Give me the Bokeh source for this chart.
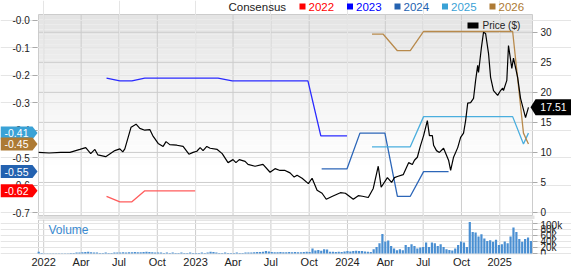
import numpy as np
import pandas as pd
from bokeh.plotting import figure
from bokeh.layouts import column
from bokeh.models import (Range1d, LinearAxis, FixedTicker, CustomJSTickFormatter,
                          PolyAnnotation, Label)
from bokeh.embed import file_html
from bokeh.resources import INLINE

FONT = "Liberation Sans"

# ---------------- data ----------------
price_dates = [
    "2021-12-20", "2022-01-14", "2022-02-11", "2022-03-05", "2022-03-29", "2022-04-12", "2022-04-24",
    "2022-05-04", "2022-05-11", "2022-05-30", "2022-06-21", "2022-07-03", "2022-07-10", "2022-07-15",
    "2022-07-30", "2022-08-11", "2022-08-20", "2022-09-01", "2022-09-13", "2022-09-20", "2022-10-03",
    "2022-10-15", "2022-10-22", "2022-10-31", "2022-11-17", "2022-12-02", "2022-12-16", "2022-12-26",
    "2023-01-04", "2023-01-12", "2023-01-19", "2023-01-28", "2023-02-05", "2023-02-22", "2023-03-06",
    "2023-03-20", "2023-04-01", "2023-04-08", "2023-04-16", "2023-04-30", "2023-05-07", "2023-05-24",
    "2023-06-12", "2023-06-29", "2023-07-11", "2023-07-23", "2023-08-04", "2023-08-16", "2023-08-26",
    "2023-09-02", "2023-09-14", "2023-09-29", "2023-10-08", "2023-10-20", "2023-11-01", "2023-11-11",
    "2023-11-26", "2023-12-15", "2023-12-27", "2024-01-15", "2024-01-27", "2024-02-06", "2024-02-20",
    "2024-03-03", "2024-03-15", "2024-03-22", "2024-04-06", "2024-04-16", "2024-04-23", "2024-04-30",
    "2024-05-14", "2024-05-27", "2024-06-05", "2024-06-10", "2024-06-17", "2024-06-24", "2024-07-02",
    "2024-07-11", "2024-07-16", "2024-07-23", "2024-07-26", "2024-08-02", "2024-08-09", "2024-08-19",
    "2024-08-31", "2024-09-05", "2024-09-12", "2024-09-22", "2024-09-29", "2024-10-06", "2024-10-11",
    "2024-10-16", "2024-10-23", "2024-10-30", "2024-11-04", "2024-11-09", "2024-11-11", "2024-11-18",
    "2024-11-23", "2024-11-28", "2024-12-05", "2024-12-10", "2024-12-17", "2024-12-27", "2025-01-03",
    "2025-01-08", "2025-01-10", "2025-01-18", "2025-01-22", "2025-01-30", "2025-02-03", "2025-02-13",
    "2025-02-20", "2025-03-04", "2025-03-11",
]
price_values = [
    10.0, 9.9, 10.0, 10.0, 10.5, 10.8, 9.8,
    10.5, 9.6, 9.3, 10.3, 10.6, 10.1, 10.6,
    14.2, 14.7, 14.0, 13.7, 13.8, 12.8, 11.5,
    11.0, 11.8, 11.3, 11.2, 11.0, 9.7, 10.0,
    10.2, 10.8, 10.3, 11.0, 10.7, 10.5, 9.8,
    8.3, 8.8, 8.3, 8.8, 8.5, 8.0, 7.7,
    8.0, 6.7, 7.3, 7.0, 7.0, 6.6, 5.9,
    6.2, 5.7, 4.8, 5.7, 3.7, 3.2, 2.2,
    2.7, 3.3, 3.2, 2.2, 2.8, 2.7, 2.5,
    4.0, 7.7, 4.2, 5.8, 5.0, 5.8, 6.0,
    6.3, 8.3, 8.0, 8.7, 9.2, 11.0, 12.8,
    15.3, 12.8, 12.8, 11.2, 10.3, 10.0, 10.7,
    8.7, 7.0, 9.2, 10.8, 12.5, 13.2, 15.3,
    18.2, 18.3, 19.0, 22.0, 24.5, 23.3, 27.5,
    30.0, 29.8, 26.5, 22.5, 20.3, 19.5, 20.3,
    20.7, 20.3, 22.0, 27.8, 24.0, 25.7, 22.5,
    19.0, 15.8, 17.51,
]

eps2022_dates = ["2022-06-01", "2022-07-03", "2022-08-01", "2022-09-01", "2022-12-31"]
eps2022_values = [-0.64, -0.66, -0.66, -0.62, -0.62]

eps2023_dates = ["2022-06-01", "2022-07-03", "2022-08-01", "2022-09-01", "2023-02-24",
                 "2023-03-30", "2023-09-28", "2023-10-29", "2023-12-31"]
eps2023_values = [-0.21, -0.22, -0.22, -0.21, -0.21, -0.22, -0.22, -0.42, -0.42]

eps2024_dates = ["2023-10-31", "2023-12-31", "2024-01-31", "2024-03-31", "2024-04-30",
                 "2024-05-31", "2024-07-02", "2024-08-31"]
eps2024_values = [-0.54, -0.54, -0.41, -0.41, -0.64, -0.64, -0.55, -0.55]

eps2025_dates = ["2024-02-29", "2024-05-31", "2024-07-02", "2025-02-01", "2025-02-27", "2025-03-11"]
eps2025_values = [-0.46, -0.46, -0.35, -0.35, -0.45, -0.41]

eps2026_dates = ["2024-02-29", "2024-03-27", "2024-04-30", "2024-05-31", "2024-07-02",
                 "2025-02-01", "2025-02-27", "2025-03-11"]
eps2026_values = [-0.05, -0.05, -0.11, -0.11, -0.04, -0.04, -0.41, -0.45]

volume_first_week = "2021-12-20"
volume_k = [
    6, 2, 1, 1, 1, 1, 1, 1, 1, 1, 1,
    2, 2, 3, 3,
    4, 5, 6, 4,
    3, 3, 2, 2, 3, 2, 2, 3, 3,
    3, 4, 3, 4, 4, 5, 4, 4, 5, 6, 5, 4, 3,
    3, 3, 2, 3, 2, 3, 2, 2, 3, 2, 2, 3, 2,
    2, 2, 3, 2, 3, 6, 5, 3, 2, 2, 3, 2, 2,
    2, 3, 2, 2, 3, 3, 3, 4, 5, 5, 6, 8, 7,
    5, 4, 4, 5, 4, 4, 5, 4, 5, 4, 4, 5, 6, 5,
    17, 10, 12, 9, 14, 13, 6, 6, 5, 6, 5, 7, 8, 7, 8, 9, 8, 8, 7, 6, 5, 14,
    22, 34, 65, 40, 43, 25, 17, 11, 14, 11, 28, 22, 31, 25, 17, 20, 22, 37, 22, 37,
    34, 25, 31, 22, 14, 12, 10, 17, 28, 40, 37, 22, 105, 72, 70, 57, 64, 50, 42, 44,
    39, 46, 28, 31, 40, 34, 57, 87, 72, 48, 39, 48, 53, 42,
]

consensus_years = ["2022", "2023", "2024", "2025", "2026"]
year_colors = ["#ff0000", "#0000ff", "#2462b0", "#3aa2d6", "#ad7a34"]
line_colors = ["#ff5c5c", "#2a2aff", "#2c66b8", "#4aaede", "#b88a4c"]
eps_dates = [eps2022_dates, eps2023_dates, eps2024_dates, eps2025_dates, eps2026_dates]
eps_values = [eps2022_values, eps2023_values, eps2024_values, eps2025_values, eps2026_values]
# order in which the value tags are stacked (bottom first)
tag_order = [3, 4, 2, 0]

left_ticks = [0.0, -0.1, -0.2, -0.3, -0.4, -0.5, -0.6, -0.7]
price_ticks = [0, 5, 10, 15, 20, 25, 30]
volume_ticks = [0, 20, 40, 60, 80, 100]

# ---------------- layout helpers (pixel geometry, page coordinates) ----------------
def ms(ts):
    return pd.Timestamp(ts).value / 1e6

W = 571
H1 = 219                       # main panel height; both frames span the full window width
L, R, T, B = 38, 532, 14, 215  # plot area of the main panel
VB = 254                       # bottom of the volume panel
X0 = pd.Timestamp("2021-12-19 12:00")
X1 = pd.Timestamp("2025-03-20 17:00")
MS_PER_PX = (ms(X1) - ms(X0)) / (R - L)
EPS_AT_T, EPS_PER_PX = 0.0218, 0.7317 / (B - T)
P_AT_T, P_PER_PX = 32.96, 33.46 / (B - T)
V_PER_PX = 1 / 0.3             # thousand shares per pixel, zero at y=253

def xpx(px):
    return ms(X0) + (px - L) * MS_PER_PX

def eps_at(py):
    return EPS_AT_T - (py - T) * EPS_PER_PX

def price_at(py):
    return P_AT_T - (py - T) * P_PER_PX

def price_px(price):
    return T + (P_AT_T - price) / P_PER_PX

def vol_at(py):
    return (253 - py) * V_PER_PX

qticks = [ms(t) for t in pd.date_range("2022-01-01", "2025-01-01", freq="QS")]
GRID = "#cccccc"
TICK = "#aaaaaa"
TXT = "#222222"

def style_axis(ax, size="10px"):
    ax.axis_line_color = None
    ax.major_tick_line_color = TICK
    ax.minor_tick_line_color = None
    ax.major_label_text_font = FONT
    ax.major_label_text_font_size = size
    ax.major_label_text_color = TXT

# ---------------- main panel ----------------
xr = Range1d(xpx(0), xpx(W))
p1 = figure(frame_width=W, frame_height=H1, x_range=xr,
            y_range=Range1d(eps_at(H1), eps_at(0)), x_axis_type="datetime",
            x_axis_location=None, y_axis_location=None, output_backend="svg",
            toolbar_location=None,
            min_border_left=0, min_border_right=0, min_border_top=0, min_border_bottom=0)
p1.extra_y_ranges = {"price": Range1d(price_at(H1), price_at(0))}
p1.outline_line_color = None
p1.background_fill_color = "white"

# soft vertical gradient background of the plot area
n = 40
edges = np.linspace(price_at(T), price_at(B), n + 1)
t = (np.arange(n) + 0.5) / n
shade = (228 + 27 * np.clip(t / 0.75, 0, 1) ** 0.9).astype(int)
bg_colors = ["#%02x%02x%02x" % (s, s, s) for s in shade]
p1.quad(left=ms(X0), right=ms(X1), top=edges[:-1], bottom=edges[1:], fill_color=bg_colors,
        line_color=None, y_range_name="price", level="image")
# separator band between the two panels
p1.quad(left=xpx(L - 1), right=xpx(R + 2), top=price_at(B), bottom=price_at(H1),
        fill_color="#e3e3e3", line_color=None, y_range_name="price", level="image")

# grid lines (quarters / price ticks) limited to the plot area
p1.segment(x0=qticks, x1=qticks, y0=price_at(T), y1=price_at(B), y_range_name="price",
           line_color=GRID, line_width=1, level="underlay")
p1.segment(x0=ms(X0), x1=ms(X1), y0=price_ticks, y1=price_ticks, y_range_name="price",
           line_color=GRID, line_width=1, level="underlay")
p1.quad(left=ms(X0), right=ms(X1), top=price_at(T), bottom=price_at(B), fill_color=None,
        line_color=GRID, line_width=1, y_range_name="price", level="underlay")

# axes at fixed locations (their side panel lies outside the window)
eps_labels = LinearAxis(ticker=FixedTicker(ticks=left_ticks), fixed_location=xpx(7),
                        formatter=CustomJSTickFormatter(
                            code="return (tick <= 0 ? '-' : '') + Math.abs(tick).toFixed(1);"))
eps_labels.major_tick_out = 0
eps_labels.major_tick_in = 0
eps_labels.major_label_standoff = 5
eps_tick_marks = LinearAxis(ticker=FixedTicker(ticks=left_ticks), fixed_location=xpx(L - 1),
                            formatter=CustomJSTickFormatter(code="return '';"))
eps_tick_marks.major_tick_out = 0
eps_tick_marks.major_tick_in = 5
price_axis = LinearAxis(y_range_name="price", ticker=FixedTicker(ticks=price_ticks),
                        fixed_location=ms(X1))
price_axis.major_tick_out = 5
price_axis.major_tick_in = 0
price_axis.major_label_standoff = 3
for ax in (eps_labels, eps_tick_marks, price_axis):
    style_axis(ax)
    p1.add_layout(ax, "right")

for d, v, c in zip(eps_dates, eps_values, line_colors):
    p1.line(x=[ms(x) for x in d], y=v, line_color=c, line_width=1.3)
p1.line(x=[ms(x) for x in price_dates], y=price_values, y_range_name="price",
        line_color="black", line_width=1.2)

# top legend
ly = eps_at(6)
p1.add_layout(Label(x=xpx(228), y=ly, text="Consensus", text_font=FONT, text_font_size="11.5px",
                    text_color=TXT, text_baseline="middle", text_align="left"))
for k, (yr, col) in enumerate(zip(consensus_years, year_colors)):
    sx = 299 + 47.5 * k
    p1.add_layout(PolyAnnotation(xs=[xpx(sx), xpx(sx + 6), xpx(sx + 6), xpx(sx)],
                                 ys=[eps_at(3), eps_at(3), eps_at(9), eps_at(9)],
                                 fill_color=col, fill_alpha=1, line_color=None))
    p1.add_layout(Label(x=xpx(sx + 9), y=ly, text=yr, text_font=FONT, text_font_size="11.5px",
                        text_color=col, text_baseline="middle", text_align="left"))

# price legend inside the plot area
p1.add_layout(PolyAnnotation(xs=[xpx(467), xpx(478), xpx(478), xpx(467)],
                             ys=[eps_at(22), eps_at(22), eps_at(28), eps_at(28)],
                             fill_color="black", fill_alpha=1, line_color=None))
p1.add_layout(Label(x=xpx(482), y=eps_at(25), text="Price ($)", text_font=FONT,
                    text_font_size="10px", text_color=TXT, text_baseline="middle"))

# consensus value tags on the left
h = 6.5 * EPS_PER_PX
for i in tag_order:
    v = eps_values[i][-1]
    p1.add_layout(PolyAnnotation(xs=[xpx(0), xpx(32), xpx(37), xpx(32), xpx(0)],
                                 ys=[v + h, v + h, v, v - h, v - h],
                                 fill_color=year_colors[i], fill_alpha=1, line_color=None))
    p1.add_layout(Label(x=xpx(16), y=v, text="%.2f" % v, text_font=FONT, text_font_size="10.5px",
                        text_color="white", text_baseline="middle", text_align="center"))

# last price tag on the right (placed through the price scale, expressed on the main range)
last = price_values[-1]
ty = eps_at(price_px(last))
th = 8 * EPS_PER_PX
p1.add_layout(PolyAnnotation(xs=[xpx(530), xpx(535), xpx(W), xpx(W), xpx(535)],
                             ys=[ty, ty + th, ty + th, ty - th, ty - th],
                             fill_color="black", fill_alpha=1, line_color=None))
p1.add_layout(Label(x=xpx(553), y=ty, text="%.2f" % last, text_font=FONT,
                    text_font_size="10.5px", text_color="white", text_baseline="middle",
                    text_align="center"))

# ---------------- volume panel ----------------
p2 = figure(frame_width=W, frame_height=VB - H1, x_range=xr,
            y_range=Range1d(vol_at(VB), vol_at(H1)), x_axis_type="datetime",
            y_axis_location=None, output_backend="svg", toolbar_location=None,
            min_border_left=0, min_border_right=0, min_border_top=0, min_border_bottom=12)
p2.outline_line_color = None
p2.xgrid.visible = False
p2.segment(x0=qticks, x1=qticks, y0=vol_at(H1), y1=vol_at(VB), line_color=GRID, line_width=1,
           level="underlay")
p2.quad(left=ms(X0), right=ms(X1), top=vol_at(H1 + 0.5), bottom=vol_at(VB - 0.5), fill_color=None,
        line_color=GRID, line_width=1, level="underlay")

vdates = [ms(d) for d in pd.date_range(volume_first_week, periods=len(volume_k), freq="7D")]
p2.vbar(x=vdates, top=volume_k, bottom=0, width=5.3 * 86400000, fill_color="#4a8fd2",
        line_color=None)

xa = p2.xaxis[0]
xa.ticker = FixedTicker(ticks=qticks)
xa.formatter = CustomJSTickFormatter(code="""
const d = new Date(tick);
const m = d.getUTCMonth();
const n = ["Jan","Feb","Mar","Apr","May","Jun","Jul","Aug","Sep","Oct","Nov","Dec"];
return m == 0 ? String(d.getUTCFullYear()) : n[m];
""")
style_axis(xa, "11px")
xa.major_tick_line_color = None
xa.major_tick_out = 0
xa.major_tick_in = 0
xa.major_label_standoff = 1

va = LinearAxis(ticker=FixedTicker(ticks=volume_ticks), fixed_location=ms(X1),
                formatter=CustomJSTickFormatter(code="return tick == 0 ? '0' : tick + 'k';"))
style_axis(va)
va.major_tick_in = 0
va.major_tick_out = 5
va.major_label_standoff = 3
p2.add_layout(va, "right")

p2.add_layout(Label(x=xpx(48), y=vol_at(229), text="Volume", text_font=FONT,
                    text_font_size="12px", text_color="#3a8ad0", text_baseline="middle"))

layout = column(p1, p2, spacing=0, width=W, styles={"overflow": "hidden"})
open("out.html", "w").write(file_html(layout, INLINE))
